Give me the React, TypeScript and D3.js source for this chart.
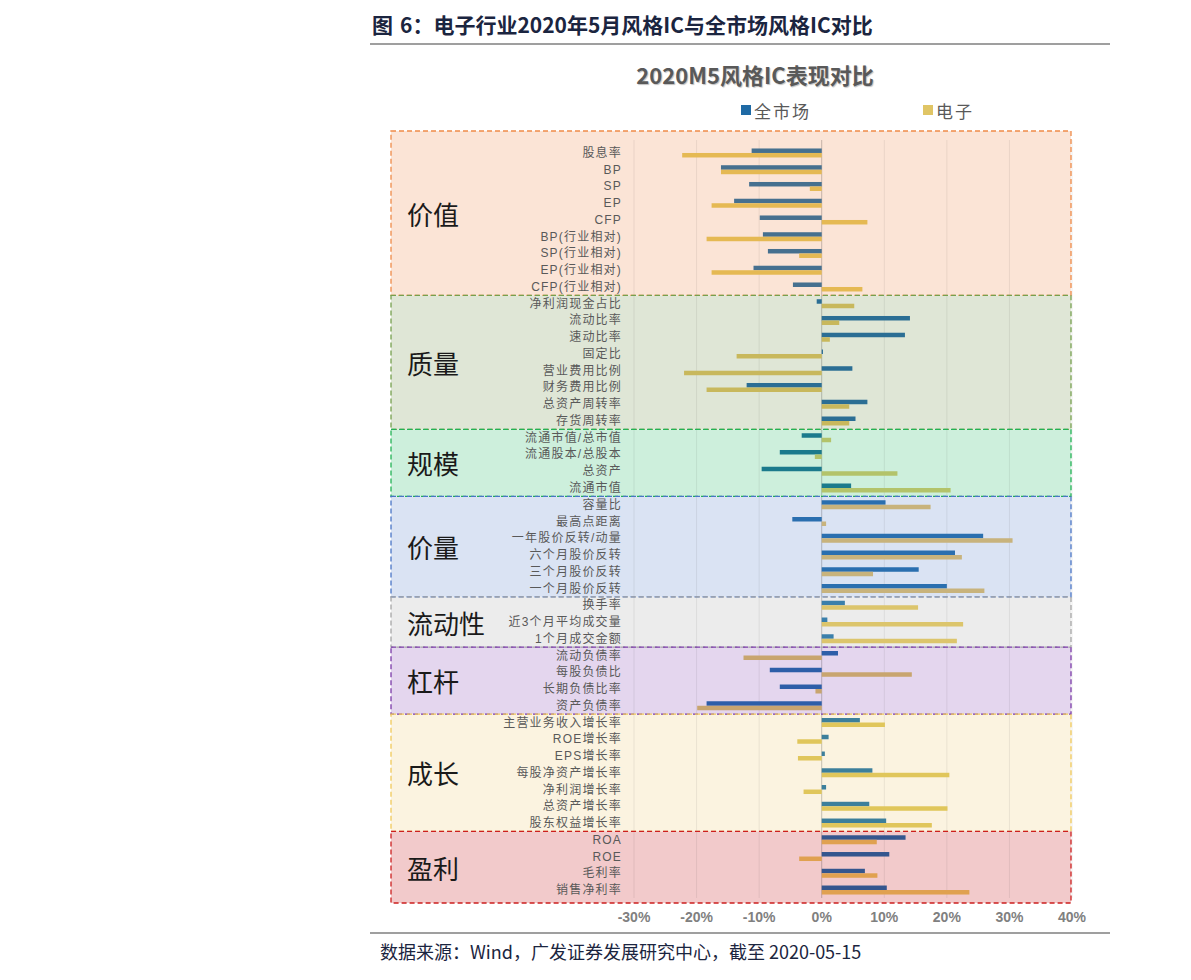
import React from 'react';
import * as d3 from 'd3';

// group names and how many rows each one holds
const groupNames = ['价值', '质量', '规模', '价量', '流动性', '杠杆', '成长', '盈利'];
const groupSizes = [9, 8, 4, 6, 3, 4, 7, 4];

const categories = [
  '股息率', 'BP', 'SP', 'EP', 'CFP', 'BP(行业相对)', 'SP(行业相对)', 'EP(行业相对)', 'CFP(行业相对)',
  '净利润现金占比', '流动比率', '速动比率', '固定比', '营业费用比例', '财务费用比例', '总资产周转率', '存货周转率',
  '流通市值/总市值', '流通股本/总股本', '总资产', '流通市值',
  '容量比', '最高点距离', '一年股价反转/动量', '六个月股价反转', '三个月股价反转', '一个月股价反转',
  '换手率', '近3个月平均成交量', '1个月成交金额',
  '流动负债率', '每股负债比', '长期负债比率', '资产负债率',
  '主营业务收入增长率', 'ROE增长率', 'EPS增长率', '每股净资产增长率', '净利润增长率', '总资产增长率', '股东权益增长率',
  'ROA', 'ROE', '毛利率', '销售净利率',
];

// 全市场
const market = [
  -11.2, -16.1, -11.6, -14.0, -9.9, -9.4, -8.6, -10.9, -4.6,
  -0.8, 14.1, 13.3, 0.2, 4.9, -12.0, 7.3, 5.4,
  -3.2, -6.7, -9.6, 4.7,
  10.2, -4.7, 25.8, 21.3, 15.5, 20.0,
  3.7, 0.9, 1.9,
  2.6, -8.3, -6.7, -18.4,
  6.1, 1.1, 0.5, 8.1, 0.7, 7.6, 10.3,
  13.4, 10.8, 6.9, 10.4,
];

// 电子
const electronics = [
  -22.3, -16.1, -1.9, -17.6, 7.3, -18.4, -3.6, -17.6, 6.5,
  5.2, 2.8, 1.3, -13.6, -22.0, -18.4, 4.4, 4.4,
  1.5, -1.1, 12.1, 20.6,
  17.4, 0.7, 30.5, 22.4, 8.2, 26.0,
  15.4, 22.6, 21.6,
  -12.5, 14.4, -1.0, -19.9,
  10.1, -3.9, -3.8, 20.4, -2.9, 20.1, 17.6,
  8.8, -3.6, 8.9, 23.6,
];

const xTicks = [-30, -20, -10, 0, 10, 20, 30, 40];

// per-group look: box fill, box border, market bar, electronics bar
const groupStyles = [
  { fill: '#fbe4d6', stroke: '#ef8a48', a: '#46708f', b: '#e5b953' },
  { fill: '#dfe6d6', stroke: '#76a04e', a: '#2b6e94', b: '#c8b85c' },
  { fill: '#cdefdc', stroke: '#22b255', a: '#1b7a8c', b: '#b3c36a' },
  { fill: '#dae3f3', stroke: '#4a76c6', a: '#2a6faf', b: '#c8b37c' },
  { fill: '#ececec', stroke: '#a6a6a6', a: '#3a7fab', b: '#dcc56c' },
  { fill: '#e4d6ee', stroke: '#7a3aa8', a: '#2d5ea8', b: '#c8a56f' },
  { fill: '#fbf3e0', stroke: '#f0c95a', a: '#3c7f9b', b: '#e0c65b' },
  { fill: '#f2cacb', stroke: '#cc1f1f', a: '#34568e', b: '#e0a150' },
];

const CJK = '"Noto Sans CJK SC", "Noto Sans", sans-serif';
const LAT = '"Liberation Sans", Arial, "Noto Sans CJK SC", sans-serif';

export default function App() {
  const boxLeft = 391, boxRight = 1071;
  const x = d3.scaleLinear().domain([-30, 40]).range([634, 1072]);
  const y = d3.scaleBand<number>().domain(d3.range(categories.length)).range([144.6, 898.4]);
  const bw = y.bandwidth();
  const barH = 4.5;

  // which group each row belongs to
  const groupOf: number[] = [];
  groupSizes.forEach((n, g) => { for (let i = 0; i < n; i++) groupOf.push(g); });
  const starts = groupSizes.map((_, g) => d3.sum(groupSizes.slice(0, g)));

  const boxes = groupNames.map((name, g) => {
    const first = starts[g], last = starts[g] + groupSizes[g] - 1;
    let top = y(first)!, bottom = y(last)! + bw;
    if (g === 0) top -= 13.6;
    if (g === groupNames.length - 1) bottom += 4.6;
    return { name, top, bottom, style: groupStyles[g] };
  });

  return (
    <svg width={1191} height={980} style={{ position: 'absolute', left: 0, top: 0, background: '#fff' }}>
      {/* header */}
      <text y={33} fontFamily={CJK} fontSize={21} fontWeight="bold" fill="#1b2540">
        <tspan x={372}>图</tspan>
        <tspan x={400}>6：电子行业2020年5月风格IC与全市场风格IC对比</tspan>
      </text>
      <line x1={370} x2={1110} y1={44} y2={44} stroke="#7f7f7f" strokeWidth={1.5} />

      <text x={755} y={84} textAnchor="middle" fontFamily={CJK} fontSize={22} fontWeight="bold" fill="#595959"
        style={{ textShadow: '1px 1px 1px rgba(0,0,0,0.25)' }}>
        2020M5风格IC表现对比
      </text>

      {/* legend */}
      <rect x={741} y={105} width={10} height={10} fill="#1f6aa5" />
      <text x={754} y={110} dominantBaseline="central" fontFamily={CJK} fontSize={17} letterSpacing={2} fill="#595959">全市场</text>
      <rect x={923} y={105} width={10} height={10} fill="#e0c565" />
      <text x={936} y={110} dominantBaseline="central" fontFamily={CJK} fontSize={17} letterSpacing={2} fill="#595959">电子</text>

      {/* group boxes */}
      {boxes.map((b) => (
        <rect key={'f' + b.name} x={boxLeft} y={b.top} width={boxRight - boxLeft} height={b.bottom - b.top} fill={b.style.fill} />
      ))}

      {/* grid */}
      {xTicks.map((t) => (
        <line key={'g' + t} x1={x(t)} x2={x(t)} y1={140} y2={898}
          stroke={t === 0 ? 'rgba(0,0,0,0.22)' : 'rgba(0,0,0,0.07)'} strokeWidth={1} />
      ))}

      {/* bars */}
      {categories.map((c, i) => {
        const st = groupStyles[groupOf[i]];
        const mid = y(i)! + bw / 2;
        return (
          <g key={'b' + i}>
            <rect x={Math.min(x(0), x(market[i]))} y={mid - barH} width={Math.abs(x(market[i]) - x(0))} height={barH} fill={st.a} />
            <rect x={Math.min(x(0), x(electronics[i]))} y={mid} width={Math.abs(x(electronics[i]) - x(0))} height={barH} fill={st.b} />
          </g>
        );
      })}

      {/* box borders */}
      {boxes.map((b) => (
        <rect key={'s' + b.name} x={boxLeft} y={b.top} width={boxRight - boxLeft} height={b.bottom - b.top}
          fill="none" stroke={b.style.stroke} strokeWidth={1.3} strokeDasharray="5,3" />
      ))}

      {/* group names */}
      {boxes.map((b) => (
        <text key={'n' + b.name} x={407} y={(b.top + b.bottom) / 2} dominantBaseline="central"
          fontFamily={CJK} fontSize={26} fill="#1a1a1a">{b.name}</text>
      ))}

      {/* category labels */}
      {categories.map((c, i) => (
        <text key={'l' + i} x={622} y={y(i)! + bw / 2} textAnchor="end" dominantBaseline="central"
          fontFamily={LAT} fontSize={12} letterSpacing={1.2} fill="#595959">{c}</text>
      ))}

      {/* x axis labels */}
      {xTicks.map((t) => (
        <text key={'t' + t} x={x(t)} y={917} textAnchor="middle" dominantBaseline="central"
          fontFamily={LAT} fontSize={14} fontWeight="bold" fill="#808080">{t}%</text>
      ))}

      {/* footer */}
      <line x1={370} x2={1110} y1={933} y2={933} stroke="#7f7f7f" strokeWidth={1.5} />
      <text x={380} y={951} dominantBaseline="central" fontFamily={CJK} fontSize={18} fill="#1b2540">
        数据来源：Wind，广发证券发展研究中心，截至 2020-05-15
      </text>
    </svg>
  );
}
